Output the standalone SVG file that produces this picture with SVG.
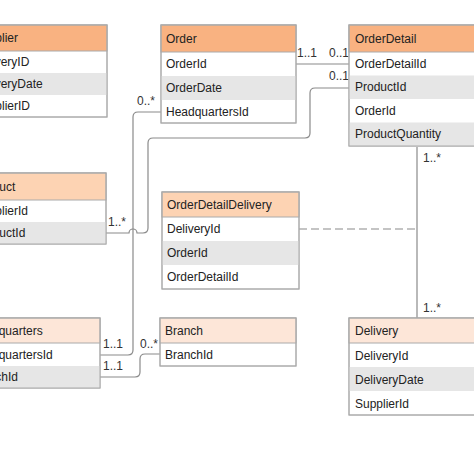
<svg xmlns="http://www.w3.org/2000/svg" width="474" height="474" viewBox="0 0 474 474">
<style>
text{font-family:"Liberation Sans",Arial,sans-serif;font-size:12px;fill:#222}
.box{fill:#fff;stroke:#aaa;stroke-width:1}
.h1{fill:#f9b281;stroke:#aaa}
.h2{fill:#fdd3b3;stroke:#aaa}
.h3{fill:#fde6d8;stroke:#aaa}
.g{fill:#e6e6e6}
.c{fill:none;stroke:#8a8a8a;stroke-width:1.2}
.lbl{font-size:12px;fill:#333}
</style>
<rect width="474" height="474" fill="#fff"/>
<g id="connectors">
<path class="c" d="M296,64 H349"/>
<path class="c" d="M106,233 H129 A4,4 0 0 1 137,233 H143 Q148,233 148,228 V143 Q148,138 153,138 H305 Q310,138 310,133 V93 Q310,88 315,88 H349"/>
<path class="c" d="M161,112 H138 Q133,112 133,117 V350 Q133,355 128,355 H100"/>
<path class="c" d="M100,377 H135 Q140,377 140,372 V359 Q140,354 145,354 H160"/>
<path class="c" d="M417,147 V318"/>
<path class="c" d="M299,229 H417" stroke-dasharray="8,4"/>
<text class="lbl" x="297" y="57">1..1</text>
<text class="lbl" x="329" y="57">0..1</text>
<text class="lbl" x="329" y="80">0..1</text>
<text class="lbl" x="137" y="105">0..*</text>
<text class="lbl" x="108" y="226">1..*</text>
<text class="lbl" x="423" y="162">1..*</text>
<text class="lbl" x="423" y="312">1..*</text>
<text class="lbl" x="103" y="348">1..1</text>
<text class="lbl" x="103" y="370">1..1</text>
<text class="lbl" x="140" y="348">0..*</text>
</g>
<g id="Supplier">
<rect class="box" x="-31" y="25" width="138" height="92"/>
<rect class="g" x="-31" y="73" width="138" height="22"/>
<rect class="h1" x="-31" y="25" width="138" height="26"/>
<rect class="box" x="-31" y="25" width="138" height="92" fill="none" style="fill:none"/>
<text x="-26" y="42">Supplier</text>
<text x="-26" y="66">DeliveryID</text>
<text x="-26" y="88">DeliveryDate</text>
<text x="-26" y="110">SupplierID</text>
</g>
<g id="Order">
<rect class="box" x="161" y="25" width="135" height="98"/>
<rect class="g" x="161" y="76" width="135" height="24"/>
<rect class="h1" x="161" y="25" width="135" height="27"/>
<rect class="box" x="161" y="25" width="135" height="98" style="fill:none"/>
<text x="166" y="43">Order</text>
<text x="166" y="68">OrderId</text>
<text x="166" y="92">OrderDate</text>
<text x="166" y="116">HeadquartersId</text>
</g>
<g id="OrderDetail">
<rect class="box" x="349" y="25" width="135" height="121"/>
<rect class="g" x="349" y="75.5" width="135" height="23.5"/>
<rect class="g" x="349" y="122.5" width="135" height="23.5"/>
<rect class="h1" x="349" y="25" width="135" height="27"/>
<rect class="box" x="349" y="25" width="135" height="121" style="fill:none"/>
<text x="355" y="43">OrderDetail</text>
<text x="355" y="68">OrderDetailId</text>
<text x="355" y="91">ProductId</text>
<text x="355" y="115">OrderId</text>
<text x="355" y="138">ProductQuantity</text>
</g>
<g id="Product">
<rect class="box" x="-31" y="173" width="137" height="71"/>
<rect class="g" x="-31" y="222" width="137" height="22"/>
<rect class="h2" x="-31" y="173" width="137" height="27"/>
<rect class="box" x="-31" y="173" width="137" height="71" style="fill:none"/>
<text x="-26" y="191">Product</text>
<text x="-26" y="215">SupplierId</text>
<text x="-26" y="237">ProductId</text>
</g>
<g id="OrderDetailDelivery">
<rect class="box" x="162" y="192" width="137" height="97"/>
<rect class="g" x="162" y="241" width="137" height="24"/>
<rect class="h2" x="162" y="192" width="137" height="25"/>
<rect class="box" x="162" y="192" width="137" height="97" style="fill:none"/>
<text x="167" y="209">OrderDetailDelivery</text>
<text x="167" y="233">DeliveryId</text>
<text x="167" y="257">OrderId</text>
<text x="167" y="281">OrderDetailId</text>
</g>
<g id="Headquarters">
<rect class="box" x="-31" y="318" width="131" height="70"/>
<rect class="g" x="-31" y="366" width="131" height="22"/>
<rect class="h3" x="-31" y="318" width="131" height="25"/>
<rect class="box" x="-31" y="318" width="131" height="70" style="fill:none"/>
<text x="-30" y="335">Headquarters</text>
<text x="-30" y="359">HeadquartersId</text>
<text x="-30" y="381">BranchId</text>
</g>
<g id="Branch">
<rect class="box" x="160" y="318" width="136" height="48"/>
<rect class="h3" x="160" y="318" width="136" height="25"/>
<rect class="box" x="160" y="318" width="136" height="48" style="fill:none"/>
<text x="165" y="335">Branch</text>
<text x="165" y="359">BranchId</text>
</g>
<g id="Delivery">
<rect class="box" x="349" y="318" width="135" height="97"/>
<rect class="g" x="349" y="367" width="135" height="24"/>
<rect class="h3" x="349" y="318" width="135" height="25"/>
<rect class="box" x="349" y="318" width="135" height="97" style="fill:none"/>
<text x="355" y="335">Delivery</text>
<text x="355" y="360">DeliveryId</text>
<text x="355" y="384">DeliveryDate</text>
<text x="355" y="408">SupplierId</text>
</g>
</svg>
